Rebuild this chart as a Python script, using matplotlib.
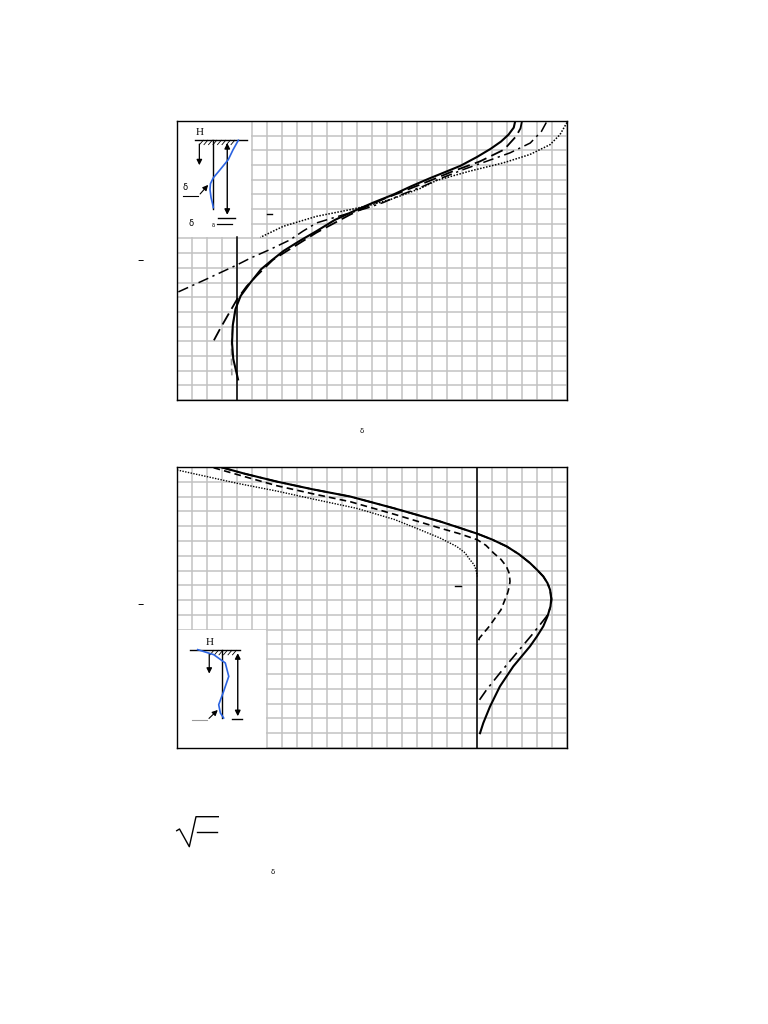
import matplotlib.pyplot as plt
from matplotlib.patches import Rectangle
from matplotlib.lines import Line2D

# grid units: x = column (0..26), y = row counted downward (0..19)
n_cols = 26
n_rows = 19

# ---- upper panel curves (x, depth) ----
top_solid_x = [22.55, 22.45, 22.1, 21.6, 20.9, 20.0, 18.9, 17.7, 16.85, 15.6, 14.4, 13.1, 11.75,
               10.5, 9.3, 8.2, 7.1, 6.3, 5.6, 4.9, 4.25, 3.9, 3.72, 3.67, 3.75, 4.07]
top_solid_y = [0.0, 0.45, 0.93, 1.4, 1.9, 2.45, 3.05, 3.55, 3.9, 4.45, 5.02, 5.55, 6.15,
               6.75, 7.5, 8.15, 8.85, 9.5, 10.1, 11.0, 11.9, 12.8, 13.9, 15.1, 16.2, 17.6]

top_dash_x = [23.0, 22.9, 22.6, 21.8, 20.2, 18.4, 16.9, 15.3, 13.8, 12.6, 11.5, 10.4, 9.3,
              8.2, 7.1, 6.4, 5.3, 4.65, 4.0, 3.35, 2.9, 2.4]
top_dash_y = [0.0, 0.5, 1.05, 1.95, 2.75, 3.42, 4.05, 4.7, 5.3, 5.85, 6.4, 7.0, 7.6,
              8.3, 9.0, 9.45, 10.55, 11.25, 12.15, 13.3, 14.1, 15.05]

top_dashdot_x = [24.62, 24.3, 23.55, 22.2, 20.65, 19.1, 17.6, 16.4, 15.0, 13.76, 12.6, 11.53,
                 10.4, 9.31, 8.4, 7.53, 6.2, 4.87, 4.0, 2.0, 0.0]
top_dashdot_y = [0.1, 0.7, 1.5, 2.17, 2.74, 3.3, 3.9, 4.45, 5.0, 5.55, 5.95, 6.26,
                 6.6, 6.94, 7.5, 8.1, 8.75, 9.35, 9.8, 10.75, 11.68]

top_dot_x = [26.0, 25.53, 24.87, 23.53, 21.76, 19.53, 17.3, 16.2, 14.2, 12.8, 11.53, 9.31, 7.09, 5.56]
top_dot_y = [0.1, 0.93, 1.61, 2.28, 2.85, 3.41, 4.05, 4.6, 5.36, 5.75, 6.04, 6.49, 7.17, 7.92]

top_gray_x = [3.9, 3.72, 3.64, 3.63, 3.66]
top_gray_y = [12.8, 13.9, 15.1, 16.2, 17.45]

# ---- lower panel curves ----
bot_solid_x = [2.89, 4.5, 6.67, 9.0, 11.56, 14.5, 17.53, 18.8, 20.02, 21.0, 21.98, 22.8, 23.53,
               24.0, 24.42, 24.7, 24.87, 24.95, 24.9, 24.7, 24.42, 24.0, 23.53, 22.42, 21.53,
               20.87, 20.42, 20.2]
bot_solid_y = [0.0, 0.45, 0.99, 1.5, 2.0, 2.8, 3.68, 4.1, 4.51, 4.9, 5.37, 5.9, 6.49,
               6.95, 7.4, 7.85, 8.3, 8.9, 9.42, 10.1, 10.77, 11.45, 12.13, 13.48, 14.83,
               16.19, 17.31, 18.0]

bot_dashdot_x = [2.89, 4.5, 6.67, 9.0, 11.56, 14.5, 17.53, 18.8, 20.02, 21.0, 21.98, 22.8, 23.53,
                 24.0, 24.42, 24.7, 24.87, 24.98, 24.88, 24.64, 23.76, 22.64, 21.53, 20.64, 20.02]
bot_dashdot_y = [0.0, 0.45, 0.99, 1.5, 2.0, 2.8, 3.68, 4.1, 4.51, 4.9, 5.37, 5.9, 6.49,
                 6.95, 7.4, 7.85, 8.3, 8.97, 9.55, 10.1, 11.23, 12.58, 13.93, 15.06, 15.96]

bot_dash_x = [2.44, 4.5, 6.67, 9.0, 11.56, 14.5, 17.53, 18.8, 20.02, 20.6, 21.11, 21.6, 21.96,
              22.15, 22.2, 22.15, 22.04, 21.6, 20.82, 20.16, 20.02]
bot_dash_y = [0.05, 0.65, 1.27, 1.8, 2.35, 3.2, 4.13, 4.5, 4.92, 5.3, 5.82, 6.25, 6.72,
              7.2, 7.73, 8.1, 8.52, 9.65, 10.77, 11.57, 12.01]

bot_dot_x = [0.0, 2.0, 4.0, 6.67, 9.0, 12.0, 14.5, 16.22, 17.53, 18.64, 19.2, 19.53, 19.8, 19.93, 20.02]
bot_dot_y = [0.2, 0.65, 1.1, 1.63, 2.15, 2.8, 3.55, 4.25, 4.8, 5.37, 5.8, 6.27, 6.6, 6.94, 7.4]

# ---- inset sketches ----
top_blue_x = [4.09, 3.73, 3.42, 2.87, 2.42, 2.23, 2.2, 2.27, 2.37, 2.42]
top_blue_y = [1.31, 1.97, 2.63, 3.32, 3.87, 4.27, 4.68, 5.22, 5.63, 5.9]
bot_blue_x = [1.38, 2.45, 3.22, 3.45, 3.11, 2.78, 2.89, 3.11]
bot_blue_y = [12.35, 12.69, 13.25, 14.16, 15.17, 16.07, 16.63, 16.97]

W, H = 768, 1024
fig = plt.figure(figsize=(W / 100, H / 100), dpi=100)
fig.patch.set_facecolor('white')


def px_rect(l, t, r, b):
    return [l / W, 1 - b / H, (r - l) / W, (b - t) / H]


def grid_axes(rect):
    ax = fig.add_axes(rect)
    ax.set_xlim(0, n_cols)
    ax.set_ylim(n_rows, 0)
    ax.set_xticks(range(n_cols + 1))
    ax.set_yticks(range(n_rows + 1))
    ax.tick_params(length=0, labelbottom=False, labelleft=False)
    ax.set_axisbelow(True)
    ax.grid(True, color='#c2c2c2', lw=1.1)
    for s in ax.spines.values():
        s.set_color('black')
        s.set_linewidth(1.0)
    return ax


def hatch(ax, x0, x1, y):
    x = x0
    while x < x1:
        ax.plot([x, x + 0.25], [y + 0.3, y], color='black', lw=0.6, zorder=4)
        x += 0.3


def inset(ax, ground, arrow, pile, dim, blue, leader, hx, label_h):
    ax.plot(ground[0], ground[1], color='black', lw=1.0, zorder=4)
    hatch(ax, hx[0], hx[1], ground[1][0])
    ax.annotate('', xy=(arrow[0], arrow[2]), xytext=(arrow[0], arrow[1]),
                arrowprops=dict(arrowstyle='-|>', color='black', lw=0.9,
                                mutation_scale=8), zorder=4)
    ax.plot([pile[0], pile[0]], [pile[1], pile[2]], color='black', lw=1.0, zorder=4)
    ax.annotate('', xy=(dim[0], dim[1]), xytext=(dim[0], dim[2]),
                arrowprops=dict(arrowstyle='<|-|>', color='black', lw=1.0,
                                mutation_scale=8), zorder=4)
    ax.plot([dim[3], dim[4]], [dim[2], dim[2]], color='black', lw=1.0, zorder=4)
    ax.plot(blue[0], blue[1], color='#2b63e0', lw=1.2, zorder=5)
    ax.plot([leader[0], leader[1]], [leader[2], leader[2]], color=leader[5], lw=0.8, zorder=4)
    ax.annotate('', xy=(leader[3], leader[4]), xytext=(leader[1], leader[2]),
                arrowprops=dict(arrowstyle='-|>', color='black', lw=0.8,
                                mutation_scale=8), zorder=4)
    ax.text(label_h[0], label_h[1], 'H', fontsize=8, family='Liberation Serif',
            ha='center', va='center', zorder=5)


# ================= upper panel =================
ax1 = grid_axes(px_rect(177, 121, 567, 400))
ax1.add_patch(Rectangle((0, 0), 4.95, 7.93, facecolor='white', edgecolor='none', zorder=1.5))
ax1.plot([4, 4], [7.93, n_rows], color='black', lw=1.1, zorder=3)

ax1.plot(top_gray_x, top_gray_y, color='#9a9a9a', lw=1.2, ls=(0, (4, 2)), zorder=3)
ax1.plot(top_dot_x, top_dot_y, color='black', lw=1.1, ls=(0, (1, 1)), zorder=3)
ax1.plot(top_dashdot_x, top_dashdot_y, color='black', lw=1.1, ls=(0, (7, 3, 1.5, 3)), zorder=3)
ax1.plot(top_dash_x, top_dash_y, color='black', lw=1.3, ls=(0, (7, 3)), zorder=3)
ax1.plot(top_solid_x, top_solid_y, color='black', lw=1.5, zorder=4)

inset(ax1, ground=([1.2, 4.65], [1.31, 1.31]), arrow=(1.49, 1.38, 3.2),
      pile=(2.38, 1.31, 6.02), dim=(3.35, 1.31, 6.58, 2.75, 3.87),
      blue=(top_blue_x, top_blue_y), leader=(0.42, 1.42, 5.11, 2.2, 4.21, 'black'),
      hx=(1.5, 3.6), label_h=(1.49, 0.8))
ax1.text(0.53, 4.55, 'δ', fontsize=6, ha='center', va='center', zorder=5)
ax1.text(0.91, 6.99, 'δ', fontsize=6, ha='center', va='center', zorder=5)
ax1.text(2.42, 7.14, 'δ', fontsize=4, ha='center', va='center', zorder=5)
ax1.plot([2.65, 3.65], [6.99, 6.99], color='black', lw=0.9, zorder=5)
ax1.plot([5.98, 6.31], [6.33, 6.33], color='black', lw=1.0, zorder=5)

# ================= lower panel =================
ax2 = grid_axes(px_rect(177, 467, 567, 748))
ax2.add_patch(Rectangle((0, 11.05), 5.95, n_rows - 11.05, facecolor='white',
                        edgecolor='none', zorder=1.5))
ax2.plot([20, 20], [0, n_rows], color='black', lw=1.1, zorder=3)

ax2.plot(bot_dot_x, bot_dot_y, color='black', lw=1.0, ls=(0, (1, 1)), zorder=3)
ax2.plot(bot_dash_x, bot_dash_y, color='black', lw=1.2, ls=(0, (4, 2.5)), zorder=3)
ax2.plot(bot_dashdot_x, bot_dashdot_y, color='black', lw=1.2, ls=(0, (7, 3, 1.5, 3)), zorder=3)
ax2.plot(bot_solid_x, bot_solid_y, color='black', lw=1.5, zorder=4)

inset(ax2, ground=([0.89, 4.22], [12.4, 12.4]), arrow=(2.15, 12.47, 14.16),
      pile=(3.0, 12.4, 16.97), dim=(4.05, 12.4, 17.04, 3.67, 4.33),
      blue=(bot_blue_x, bot_blue_y), leader=(1.0, 2.0, 17.13, 2.85, 16.3, '#9a9a9a'),
      hx=(2.2, 3.8), label_h=(2.15, 11.9))
ax2.plot([18.53, 18.93], [8.06, 8.06], color='black', lw=1.0, zorder=5)

# ================= loose page marks =================
fig.text(141 / W, 1 - 261 / H, '–', fontsize=9, ha='center', va='center')
fig.text(141 / W, 1 - 605 / H, '–', fontsize=9, ha='center', va='center')
fig.text(362 / W, 1 - 431 / H, 'δ', fontsize=5, ha='center', va='center')
fig.text(273 / W, 1 - 872 / H, 'δ', fontsize=5, ha='center', va='center')

rad_x = [176.7, 179.5, 189.3, 196.0, 218.3]
rad_y = [830.7, 829.0, 846.7, 816.7, 816.7]
fig.add_artist(Line2D([x / W for x in rad_x], [1 - y / H for y in rad_y],
                      color='black', lw=1.0))
fig.add_artist(Line2D([196.7 / W, 217.3 / W], [1 - 831.7 / H, 1 - 831.7 / H],
                      color='black', lw=1.0))

fig.savefig('out.png', dpi=100)
